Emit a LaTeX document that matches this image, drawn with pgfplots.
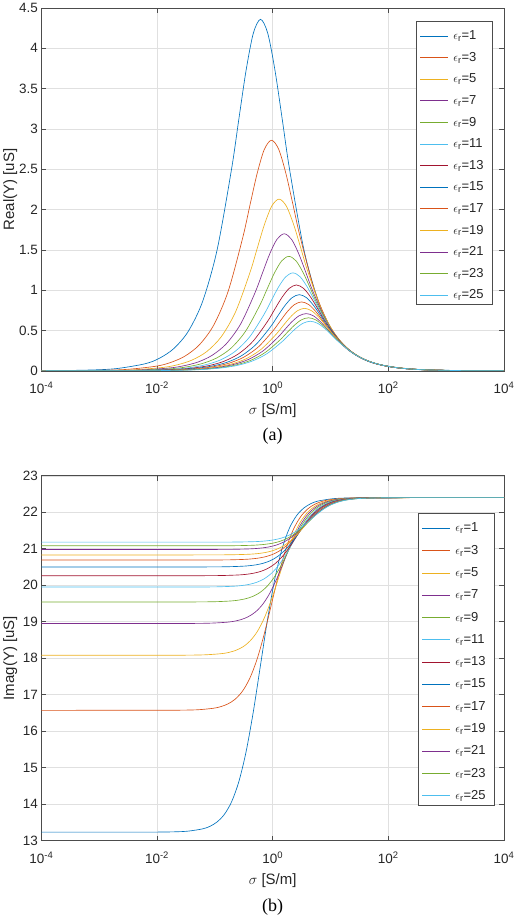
\documentclass[border=0pt]{standalone}
\usepackage{fontspec}
\setmainfont{Liberation Sans}
\newfontfamily\capfont{Liberation Serif}
\usepackage{pgfplots}
\pgfplotsset{compat=1.18}

% MATLAB default line colours
\definecolor{mlBlue}{rgb}{0,0.447,0.741}
\definecolor{mlOrange}{rgb}{0.85,0.325,0.098}
\definecolor{mlYellow}{rgb}{0.929,0.694,0.125}
\definecolor{mlPurple}{rgb}{0.494,0.184,0.556}
\definecolor{mlGreen}{rgb}{0.466,0.674,0.188}
\definecolor{mlCyan}{rgb}{0.301,0.745,0.933}
\definecolor{mlRed}{rgb}{0.635,0.078,0.184}

\pgfplotsset{
  matlab/.style={
    scale only axis, width=463pt,
    xmin=-4, xmax=4, xtick={-4,-2,0,2,4},
    xticklabels={10\textsuperscript{-4},10\textsuperscript{-2},10\textsuperscript{0},10\textsuperscript{2},10\textsuperscript{4}},
    grid=major, grid style={color=black!12, line width=0.5pt},
    axis line style={black!70, line width=0.6pt},
    tick style={black!70, line width=0.6pt},
    major tick length=5pt,
    tick label style={font=\fontsize{13.5}{15}\selectfont, text=black!85},
    xticklabel style={anchor=center, yshift=-17pt},
    label style={font=\fontsize{15}{17}\selectfont, text=black!85},
    xlabel style={at={(axis description cs:0.5,0)}, anchor=center, yshift=-40pt},
    ylabel style={at={(axis description cs:-0.067,0.5)}, anchor=center},
    /pgf/number format/assume math mode=true,
    xlabel={$\sigma$ [S/m]},
  },
  crv/.style={line width=0.65pt, smooth, mark=none},
}

% legend key: framed box, 13 coloured samples with their permittivities
% #1 = north-east corner of the box, #2 = row pitch, #3 = box height
\newcommand{\epslegend}[3]{%
  \begin{scope}[shift={#1}]
    \draw[black!70, line width=0.6pt, fill=white] (-76pt,0pt) rectangle (0pt,-#3);
    \foreach \c/\v [count=\i] in {mlBlue/1,mlOrange/3,mlYellow/5,mlPurple/7,mlGreen/9,mlCyan/11,mlRed/13,mlBlue/15,mlOrange/17,mlYellow/19,mlPurple/21,mlGreen/23,mlCyan/25}{
      \draw[draw=\c, line width=0.8pt] (-72pt,{-14.6pt-(\i-1)*#2}) -- ++(28pt,0pt);
      \node[anchor=west, inner sep=0pt, text=black!85, font=\fontsize{13}{15}\selectfont]
        at (-39pt,{-14.6pt-(\i-1)*#2}) {$\epsilon$\textsubscript{r}=\v};
    }
  \end{scope}}

\begin{document}
\begin{tikzpicture}
% ---------------- (a) real part ----------------
\begin{axis}[matlab, name=ta, height=363pt,
  ymin=0, ymax=4.5, ytick={0,0.5,...,4.5},
  ylabel={Real(Y) [uS]}]
\addplot[crv, mlBlue] coordinates {(-4,0) (-3.21,0.009) (-2.71,0.027) (-2.21,0.087) (-1.96,0.155) (-1.71,0.276) (-1.46,0.489) (-1.21,0.863) (-0.96,1.503) (-0.71,2.507) (-0.585,3.122) (-0.46,3.726) (-0.335,4.186) (-0.21,4.36) (-0.085,4.186) (0.04,3.726) (0.165,3.122) (0.29,2.507) (0.54,1.503) (0.79,0.863) (1.04,0.489) (1.29,0.276) (1.54,0.155) (1.79,0.087) (2.29,0.027) (2.79,0.009) (4,0)};
\addplot[crv, mlOrange] coordinates {(-4,0) (-3.02,0.006) (-2.52,0.018) (-2.02,0.057) (-1.77,0.102) (-1.52,0.181) (-1.27,0.321) (-1.02,0.566) (-0.77,0.986) (-0.52,1.645) (-0.395,2.048) (-0.27,2.444) (-0.145,2.746) (-0.02,2.86) (0.105,2.746) (0.23,2.444) (0.355,2.048) (0.48,1.645) (0.73,0.986) (0.98,0.566) (1.23,0.321) (1.48,0.181) (1.73,0.102) (1.98,0.057) (2.48,0.018) (2.98,0.006) (4,0)};
\addplot[crv, mlYellow] coordinates {(-4,0) (-2.89,0.004) (-2.39,0.013) (-1.89,0.043) (-1.64,0.076) (-1.39,0.135) (-1.14,0.239) (-0.89,0.422) (-0.64,0.734) (-0.39,1.225) (-0.265,1.525) (-0.14,1.82) (-0.015,2.045) (0.11,2.13) (0.235,2.045) (0.36,1.82) (0.485,1.525) (0.61,1.225) (0.86,0.734) (1.11,0.422) (1.36,0.239) (1.61,0.135) (1.86,0.076) (2.11,0.043) (2.61,0.013) (3.11,0.004) (4,0)};
\addplot[crv, mlPurple] coordinates {(-4,0) (-2.8,0.003) (-2.3,0.011) (-1.8,0.034) (-1.55,0.061) (-1.3,0.107) (-1.05,0.191) (-0.8,0.337) (-0.55,0.586) (-0.3,0.978) (-0.175,1.217) (-0.05,1.453) (0.075,1.632) (0.2,1.7) (0.325,1.632) (0.45,1.453) (0.575,1.217) (0.7,0.978) (0.95,0.586) (1.2,0.337) (1.45,0.191) (1.7,0.107) (1.95,0.061) (2.2,0.034) (2.7,0.011) (3.2,0.003) (4,0)};
\addplot[crv, mlGreen] coordinates {(-4,0) (-2.72,0.003) (-2.22,0.009) (-1.72,0.028) (-1.47,0.051) (-1.22,0.09) (-0.97,0.159) (-0.72,0.281) (-0.47,0.49) (-0.22,0.817) (-0.095,1.017) (0.03,1.213) (0.155,1.363) (0.28,1.42) (0.405,1.363) (0.53,1.213) (0.655,1.017) (0.78,0.817) (1.03,0.49) (1.28,0.281) (1.53,0.159) (1.78,0.09) (2.03,0.051) (2.28,0.028) (2.78,0.009) (3.28,0.003) (4,0)};
\addplot[crv, mlCyan] coordinates {(-4,0) (-2.65,0.002) (-2.15,0.008) (-1.65,0.024) (-1.4,0.043) (-1.15,0.077) (-0.9,0.136) (-0.65,0.241) (-0.4,0.419) (-0.15,0.699) (-0.025,0.87) (0.1,1.038) (0.225,1.166) (0.35,1.215) (0.475,1.166) (0.6,1.038) (0.725,0.87) (0.85,0.699) (1.1,0.419) (1.35,0.241) (1.6,0.136) (1.85,0.077) (2.1,0.043) (2.35,0.024) (2.85,0.008) (3.35,0.002) (4,0)};
\addplot[crv, mlRed] coordinates {(-4,0) (-2.59,0.002) (-2.09,0.007) (-1.59,0.021) (-1.34,0.038) (-1.09,0.067) (-0.84,0.119) (-0.59,0.211) (-0.34,0.367) (-0.09,0.612) (0.035,0.763) (0.16,0.91) (0.285,1.022) (0.41,1.065) (0.535,1.022) (0.66,0.91) (0.785,0.763) (0.91,0.612) (1.16,0.367) (1.41,0.211) (1.66,0.119) (1.91,0.067) (2.16,0.038) (2.41,0.021) (2.91,0.007) (3.41,0.002) (4,0)};
\addplot[crv, mlBlue] coordinates {(-4,0) (-2.54,0.002) (-2.04,0.006) (-1.54,0.019) (-1.29,0.034) (-1.04,0.06) (-0.79,0.106) (-0.54,0.187) (-0.29,0.326) (-0.04,0.543) (0.085,0.677) (0.21,0.808) (0.335,0.907) (0.46,0.945) (0.585,0.907) (0.71,0.808) (0.835,0.677) (0.96,0.543) (1.21,0.326) (1.46,0.187) (1.71,0.106) (1.96,0.06) (2.21,0.034) (2.46,0.019) (2.96,0.006) (3.46,0.002) (4,0)};
\addplot[crv, mlOrange] coordinates {(-4,0) (-2.5,0.002) (-2,0.005) (-1.5,0.017) (-1.25,0.03) (-1,0.054) (-0.75,0.096) (-0.5,0.169) (-0.25,0.295) (0,0.492) (0.125,0.612) (0.25,0.731) (0.375,0.821) (0.5,0.855) (0.625,0.821) (0.75,0.731) (0.875,0.612) (1,0.492) (1.25,0.295) (1.5,0.169) (1.75,0.096) (2,0.054) (2.25,0.03) (2.5,0.017) (3,0.005) (3.5,0.002) (4,0)};
\addplot[crv, mlYellow] coordinates {(-4,0) (-2.45,0.002) (-1.95,0.005) (-1.45,0.016) (-1.2,0.028) (-0.95,0.049) (-0.7,0.087) (-0.45,0.153) (-0.2,0.267) (0.05,0.446) (0.175,0.555) (0.3,0.662) (0.425,0.744) (0.55,0.775) (0.675,0.744) (0.8,0.662) (0.925,0.555) (1.05,0.446) (1.3,0.267) (1.55,0.153) (1.8,0.087) (2.05,0.049) (2.3,0.028) (2.55,0.016) (3.05,0.005) (3.55,0.002) (4,0)};
\addplot[crv, mlPurple] coordinates {(-4,0) (-2.42,0.001) (-1.92,0.004) (-1.42,0.014) (-1.17,0.025) (-0.92,0.045) (-0.67,0.08) (-0.42,0.141) (-0.17,0.245) (0.08,0.408) (0.205,0.508) (0.33,0.607) (0.455,0.682) (0.58,0.71) (0.705,0.682) (0.83,0.607) (0.955,0.508) (1.08,0.408) (1.33,0.245) (1.58,0.141) (1.83,0.08) (2.08,0.045) (2.33,0.025) (2.58,0.014) (3.08,0.004) (3.58,0.001) (4,0)};
\addplot[crv, mlGreen] coordinates {(-4,0) (-2.38,0.001) (-1.88,0.004) (-1.38,0.013) (-1.13,0.023) (-0.88,0.042) (-0.63,0.074) (-0.38,0.13) (-0.13,0.227) (0.12,0.378) (0.245,0.471) (0.37,0.562) (0.495,0.632) (0.62,0.658) (0.745,0.632) (0.87,0.562) (0.995,0.471) (1.12,0.378) (1.37,0.227) (1.62,0.13) (1.87,0.074) (2.12,0.042) (2.37,0.023) (2.62,0.013) (3.12,0.004) (3.62,0.001) (4,0)};
\addplot[crv, mlCyan] coordinates {(-4,0) (-2.35,0.001) (-1.85,0.004) (-1.35,0.012) (-1.1,0.022) (-0.85,0.039) (-0.6,0.069) (-0.35,0.122) (-0.1,0.212) (0.15,0.354) (0.275,0.44) (0.4,0.526) (0.525,0.59) (0.65,0.615) (0.775,0.59) (0.9,0.526) (1.025,0.44) (1.15,0.354) (1.4,0.212) (1.65,0.122) (1.9,0.069) (2.15,0.039) (2.4,0.022) (2.65,0.012) (3.15,0.004) (3.65,0.001) (4,0)};
\end{axis}
\epslegend{([xshift=-12pt,yshift=-13.5pt]ta.north east)}{21.6pt}{283pt}
\node[font=\capfont\fontsize{18}{20}\selectfont] at ([yshift=-65pt]ta.south) {(a)};

% ---------------- (b) imaginary part ----------------
\begin{axis}[matlab, name=tb, at={(0,-470pt)}, height=365pt,
  ymin=13, ymax=23, ytick={13,14,...,23},
  ylabel={Imag(Y) [uS]}]
\addplot[crv, mlBlue] coordinates {(-4,13.23) (-2.21,13.231) (-1.71,13.239) (-1.46,13.259) (-1.21,13.321) (-1.085,13.39) (-0.96,13.512) (-0.835,13.718) (-0.71,14.064) (-0.585,14.615) (-0.46,15.434) (-0.335,16.53) (-0.21,17.815) (-0.085,19.1) (0.04,20.196) (0.165,21.015) (0.29,21.566) (0.415,21.912) (0.54,22.118) (0.665,22.24) (0.79,22.309) (1.04,22.371) (1.29,22.391) (1.79,22.399) (4,22.4)};
\addplot[crv, mlOrange] coordinates {(-4,16.57) (-2.02,16.571) (-1.52,16.576) (-1.27,16.588) (-1.02,16.628) (-0.895,16.672) (-0.77,16.749) (-0.645,16.88) (-0.52,17.1) (-0.395,17.45) (-0.27,17.971) (-0.145,18.668) (-0.02,19.485) (0.105,20.302) (0.23,20.999) (0.355,21.52) (0.48,21.87) (0.605,22.09) (0.73,22.221) (0.855,22.298) (0.98,22.342) (1.23,22.381) (1.48,22.394) (1.98,22.399) (4,22.4)};
\addplot[crv, mlYellow] coordinates {(-4,18.08) (-1.89,18.08) (-1.39,18.084) (-1.14,18.094) (-0.89,18.123) (-0.765,18.155) (-0.64,18.213) (-0.515,18.31) (-0.39,18.473) (-0.265,18.732) (-0.14,19.118) (-0.015,19.635) (0.11,20.24) (0.235,20.845) (0.36,21.362) (0.485,21.748) (0.61,22.007) (0.735,22.17) (0.86,22.267) (0.985,22.325) (1.11,22.357) (1.36,22.386) (1.61,22.396) (2.11,22.4) (4,22.4)};
\addplot[crv, mlPurple] coordinates {(-4,18.95) (-1.8,18.95) (-1.3,18.953) (-1.05,18.961) (-0.8,18.984) (-0.675,19.01) (-0.55,19.056) (-0.425,19.134) (-0.3,19.264) (-0.175,19.471) (-0.05,19.779) (0.075,20.192) (0.2,20.675) (0.325,21.158) (0.45,21.571) (0.575,21.879) (0.7,22.086) (0.825,22.216) (0.95,22.294) (1.075,22.34) (1.2,22.366) (1.45,22.389) (1.7,22.397) (2.2,22.4) (4,22.4)};
\addplot[crv, mlGreen] coordinates {(-4,19.54) (-1.72,19.54) (-1.22,19.543) (-0.97,19.549) (-0.72,19.568) (-0.595,19.59) (-0.47,19.628) (-0.345,19.692) (-0.22,19.8) (-0.095,19.972) (0.03,20.227) (0.155,20.569) (0.28,20.97) (0.405,21.371) (0.53,21.713) (0.655,21.968) (0.78,22.14) (0.905,22.248) (1.03,22.312) (1.155,22.35) (1.28,22.372) (1.53,22.391) (1.78,22.397) (2.28,22.4) (4,22.4)};
\addplot[crv, mlCyan] coordinates {(-4,19.95) (-1.65,19.95) (-1.15,19.952) (-0.9,19.958) (-0.65,19.974) (-0.525,19.993) (-0.4,20.025) (-0.275,20.08) (-0.15,20.173) (-0.025,20.32) (0.1,20.539) (0.225,20.832) (0.35,21.175) (0.475,21.518) (0.6,21.811) (0.725,22.03) (0.85,22.177) (0.975,22.27) (1.1,22.325) (1.225,22.357) (1.35,22.376) (1.6,22.392) (1.85,22.398) (2.35,22.4) (4,22.4)};
\addplot[crv, mlRed] coordinates {(-4,20.26) (-1.59,20.26) (-1.09,20.262) (-0.84,20.267) (-0.59,20.281) (-0.465,20.297) (-0.34,20.326) (-0.215,20.374) (-0.09,20.455) (0.035,20.583) (0.16,20.774) (0.285,21.03) (0.41,21.33) (0.535,21.63) (0.66,21.886) (0.785,22.077) (0.91,22.205) (1.035,22.286) (1.16,22.334) (1.285,22.363) (1.41,22.379) (1.66,22.393) (1.91,22.398) (2.41,22.4) (4,22.4)};
\addplot[crv, mlBlue] coordinates {(-4,20.5) (-1.54,20.5) (-1.04,20.502) (-0.79,20.506) (-0.54,20.519) (-0.415,20.533) (-0.29,20.558) (-0.165,20.601) (-0.04,20.673) (0.085,20.787) (0.21,20.957) (0.335,21.184) (0.46,21.45) (0.585,21.716) (0.71,21.943) (0.835,22.113) (0.96,22.227) (1.085,22.299) (1.21,22.342) (1.335,22.367) (1.46,22.381) (1.71,22.394) (1.96,22.398) (2.46,22.4) (4,22.4)};
\addplot[crv, mlOrange] coordinates {(-4,20.69) (-1.5,20.69) (-1,20.692) (-0.75,20.695) (-0.5,20.707) (-0.375,20.72) (-0.25,20.742) (-0.125,20.781) (0,20.845) (0.125,20.948) (0.25,21.101) (0.375,21.305) (0.5,21.545) (0.625,21.785) (0.75,21.989) (0.875,22.142) (1,22.245) (1.125,22.309) (1.25,22.348) (1.375,22.37) (1.5,22.383) (1.75,22.395) (2,22.398) (2.5,22.4) (4,22.4)};
\addplot[crv, mlYellow] coordinates {(-4,20.83) (-1.45,20.83) (-0.95,20.832) (-0.7,20.835) (-0.45,20.846) (-0.325,20.857) (-0.2,20.878) (-0.075,20.914) (0.05,20.973) (0.175,21.067) (0.3,21.207) (0.425,21.395) (0.55,21.615) (0.675,21.835) (0.8,22.023) (0.925,22.163) (1.05,22.257) (1.175,22.316) (1.3,22.352) (1.425,22.373) (1.55,22.384) (1.8,22.395) (2.05,22.398) (2.55,22.4) (4,22.4)};
\addplot[crv, mlPurple] coordinates {(-4,20.98) (-1.42,20.98) (-0.92,20.981) (-0.67,20.984) (-0.42,20.994) (-0.295,21.005) (-0.17,21.024) (-0.045,21.056) (0.08,21.109) (0.205,21.194) (0.33,21.321) (0.455,21.491) (0.58,21.69) (0.705,21.889) (0.83,22.059) (0.955,22.186) (1.08,22.271) (1.205,22.324) (1.33,22.356) (1.455,22.375) (1.58,22.386) (1.83,22.395) (2.08,22.399) (2.58,22.4) (4,22.4)};
\addplot[crv, mlGreen] coordinates {(-4,21.08) (-1.38,21.08) (-0.88,21.081) (-0.63,21.084) (-0.38,21.093) (-0.255,21.103) (-0.13,21.121) (-0.005,21.15) (0.12,21.2) (0.245,21.279) (0.37,21.397) (0.495,21.555) (0.62,21.74) (0.745,21.925) (0.87,22.083) (0.995,22.201) (1.12,22.28) (1.245,22.33) (1.37,22.359) (1.495,22.377) (1.62,22.387) (1.87,22.396) (2.12,22.399) (2.62,22.4) (4,22.4)};
\addplot[crv, mlCyan] coordinates {(-4,21.18) (-1.35,21.18) (-0.85,21.181) (-0.6,21.184) (-0.35,21.192) (-0.225,21.201) (-0.1,21.217) (0.025,21.245) (0.15,21.291) (0.275,21.364) (0.4,21.473) (0.525,21.619) (0.65,21.79) (0.775,21.961) (0.9,22.107) (1.025,22.216) (1.15,22.289) (1.275,22.335) (1.4,22.363) (1.525,22.379) (1.65,22.388) (1.9,22.396) (2.15,22.399) (2.65,22.4) (4,22.4)};
\end{axis}
\epslegend{([xshift=-10pt,yshift=-38pt]tb.north east)}{22.3pt}{292pt}
\node[font=\capfont\fontsize{18}{20}\selectfont] at ([yshift=-67pt]tb.south) {(b)};
\end{tikzpicture}
\end{document}
